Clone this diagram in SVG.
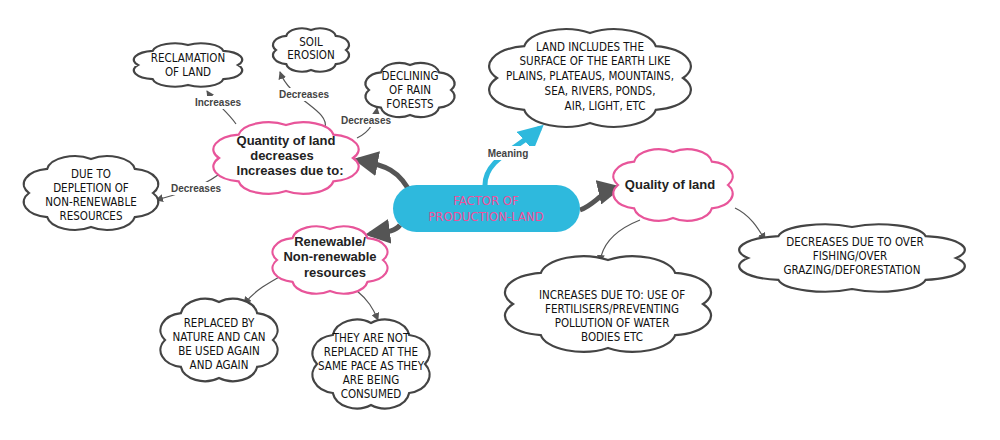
<svg xmlns="http://www.w3.org/2000/svg" width="1000" height="440" viewBox="0 0 1000 440">
<style>
.c{fill:#fff;stroke:#444;stroke-width:2.2}
.p{fill:#fff;stroke:#E8559A;stroke-width:2.2}
.t{font-family:"DejaVu Sans Condensed","DejaVu Sans",sans-serif;font-size:11.5px;fill:#111;text-anchor:middle}
.b{font-family:"Liberation Sans",Arial,sans-serif;font-size:13px;font-weight:bold;fill:#222;text-anchor:middle}
.l{font-family:"Liberation Sans",Arial,sans-serif;font-size:10px;font-weight:bold;fill:#444;text-anchor:middle}
.thin{fill:none;stroke:#555;stroke-width:1.2;marker-end:url(#ah)}
.thick{fill:none;stroke:#555;stroke-width:5;marker-end:url(#AH)}
</style>
<defs>
<path id="cl" vector-effect="non-scaling-stroke" d="M1,0 A0.45,0.45 0 0 1 0.707,0.707 A0.45,0.45 0 0 1 0,1 A0.45,0.45 0 0 1 -0.707,0.707 A0.45,0.45 0 0 1 -1,0 A0.45,0.45 0 0 1 -0.707,-0.707 A0.45,0.45 0 0 1 0,-1 A0.45,0.45 0 0 1 0.707,-0.707 A0.45,0.45 0 0 1 1,0 Z"/>
<marker id="ah" markerWidth="8" markerHeight="8" refX="7" refY="4" orient="auto" markerUnits="userSpaceOnUse"><path d="M0,0 L8,4 L0,8 Z" fill="#555"/></marker>
<marker id="AH" markerWidth="5" markerHeight="5" refX="4" refY="2.5" orient="auto"><path d="M0,0 L5,2.5 L0,5 Z" fill="#555"/></marker>
<marker id="BH" markerWidth="5" markerHeight="5" refX="4" refY="2.5" orient="auto"><path d="M0,0 L5,2.5 L0,5 Z" fill="#2EB9DD"/></marker>
</defs>
<g id="connectors">
<path class="thick" d="M412,196 C400,170 385,165 358,160"/>
<path class="thick" d="M400,225 C395,232 385,232 370,234"/>
<path class="thick" d="M580,210 C595,205 600,192 618,188"/>
<path d="M485,185 C485,160 515,150 540,128" fill="none" stroke="#2EB9DD" stroke-width="5" marker-end="url(#BH)"/>
<path class="thin" d="M236,124 C228,112 214,102 207,91"/>
<path class="thin" d="M325,128 C330,110 290,100 280,72"/>
<path class="thin" d="M357,138 C370,132 375,122 377,108"/>
<path class="thin" d="M218,175 C200,188 175,195 156,200"/>
<path class="thin" d="M640,220 C615,230 602,245 600,262"/>
<path class="thin" d="M735,208 C750,215 758,228 765,240"/>
<path class="thin" d="M288,272 C270,282 255,290 244,304"/>
<path class="thin" d="M356,290 C368,300 373,308 378,320"/>
<rect x="478" y="146" width="60" height="14" fill="#fff"/>
<text class="l" x="508" y="157">Meaning</text>
<rect x="193" y="96" width="50" height="13" fill="#fff"/>
<text class="l" x="218" y="106">Increases</text>
<rect x="276" y="88" width="56" height="13" fill="#fff"/>
<text class="l" x="304" y="98">Decreases</text>
<rect x="338" y="114" width="56" height="13" fill="#fff"/>
<text class="l" x="366" y="124">Decreases</text>
<rect x="168" y="182" width="56" height="13" fill="#fff"/>
<text class="l" x="196" y="192">Decreases</text>
</g>
<g id="center"><rect x="393" y="185" width="187" height="47" rx="23.5" fill="#2EB9DD"/>
<text x="486" y="205" font-family="DejaVu Sans Condensed,sans-serif" font-size="13" fill="#F0509A" text-anchor="middle">FACTOR OF</text>
<text x="486" y="221" font-family="DejaVu Sans Condensed,sans-serif" font-size="13" fill="#F0509A" text-anchor="middle">PRODUCTION-LAND</text></g>
<g id="reclamation"><use href="#cl" class="c" transform="translate(188,65) scale(50,20)"/><text class="t" x="188" y="62">RECLAMATION</text><text class="t" x="188" y="76">OF LAND</text></g>
<g id="soil"><use href="#cl" class="c" transform="translate(311,50) scale(35,20)"/><text class="t" x="311" y="46">SOIL</text><text class="t" x="311" y="59">EROSION</text></g>
<g id="declining"><use href="#cl" class="c" transform="translate(410,90) scale(41,25)"/><text class="t" x="410" y="80">DECLINING</text><text class="t" x="410" y="94">OF RAIN</text><text class="t" x="410" y="108">FORESTS</text></g>
<g id="meaning"><use href="#cl" class="c" transform="translate(590,78) scale(93,45)"/><text class="t" font-size="11" x="590" y="51">LAND INCLUDES  THE</text><text class="t" font-size="11" x="595" y="65">SURFACE OF THE EARTH LIKE</text><text class="t" font-size="11" x="590" y="80">PLAINS, PLATEAUS, MOUNTAINS,</text><text class="t" font-size="11" x="600" y="95">SEA, RIVERS, PONDS,</text><text class="t" font-size="11" x="605" y="110">AIR, LIGHT, ETC</text></g>
<g id="quantity"><use href="#cl" class="p" transform="translate(286,158) scale(67,33)"/><text class="b" x="286" y="145">Quantity of land</text><text class="b" x="282" y="160">decreases</text><text class="b" x="290" y="175">Increases due to:</text></g>
<g id="depletion"><use href="#cl" class="c" transform="translate(91,193) scale(62,34)"/><text class="t" x="91" y="178">DUE TO</text><text class="t" x="91" y="192">DEPLETION OF</text><text class="t" x="91" y="206">NON-RENEWABLE</text><text class="t" x="91" y="220">RESOURCES</text></g>
<g id="quality"><use href="#cl" class="p" transform="translate(673,185) scale(55,33)"/><text class="b" x="670" y="189">Quality of land</text></g>
<g id="renewable"><use href="#cl" class="p" transform="translate(330,260) scale(53,31)"/><text class="b" x="330" y="246">Renewable/</text><text class="b" x="330" y="261">Non-renewable</text><text class="b" x="335" y="277">resources</text></g>
<g id="decreasesdue"><use href="#cl" class="c" transform="translate(852,258) scale(104,31)"/><text class="t" x="855" y="246">DECREASES DUE TO OVER</text><text class="t" x="850" y="260">FISHING/OVER</text><text class="t" x="852" y="274">GRAZING/DEFORESTATION</text></g>
<g id="increasesdue"><use href="#cl" class="c" transform="translate(608,304) scale(95,44)"/><text class="t" x="612" y="299">INCREASES DUE TO: USE OF</text><text class="t" x="612" y="313">FERTILISERS/PREVENTING</text><text class="t" x="612" y="327">POLLUTION OF WATER</text><text class="t" x="612" y="341">BODIES ETC</text></g>
<g id="replaced"><use href="#cl" class="c" transform="translate(219,340) scale(54,38)"/><text class="t" x="219" y="327">REPLACED BY</text><text class="t" x="219" y="341">NATURE AND CAN</text><text class="t" x="219" y="355">BE USED AGAIN</text><text class="t" x="219" y="369">AND AGAIN</text></g>
<g id="notreplaced"><use href="#cl" class="c" transform="translate(371,364) scale(54,41)"/><text class="t" x="371" y="342">THEY ARE NOT</text><text class="t" x="371" y="356">REPLACED AT THE</text><text class="t" x="371" y="370">SAME PACE AS THEY</text><text class="t" x="371" y="384">ARE BEING</text><text class="t" x="371" y="398">CONSUMED</text></g>
</svg>
